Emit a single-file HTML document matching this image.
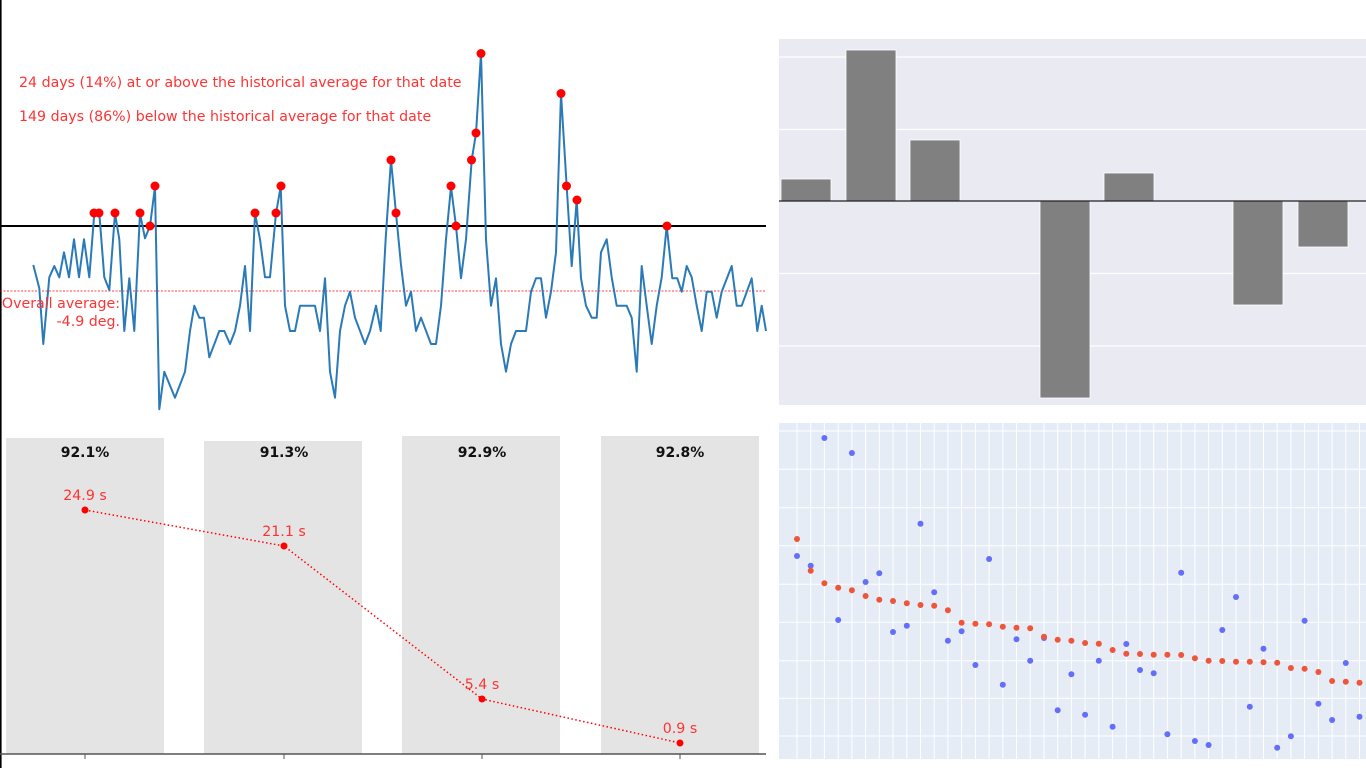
<!DOCTYPE html>
<html><head><meta charset="utf-8"><style>
html,body{margin:0;padding:0;background:#fff;width:1366px;height:768px;overflow:hidden}
svg{display:block;font-family:"DejaVu Sans","Liberation Sans",sans-serif}
</style></head><body>
<svg width="1366" height="768" viewBox="0 0 1366 768" xmlns="http://www.w3.org/2000/svg">
<rect width="1366" height="768" fill="#fff"/>
<line x1="0.8" y1="0" x2="0.8" y2="768" stroke="#000" stroke-width="1.6"/>

<line x1="0" y1="291" x2="766" y2="291" stroke="#ff0000" stroke-width="0.8" stroke-dasharray="2,1.5"/>
<line x1="0" y1="226" x2="766" y2="226" stroke="#000" stroke-width="2"/>
<polyline fill="none" stroke="#2a7ab8" stroke-width="2" stroke-linejoin="round" points="
33.3,265 39.3,288.3 43.3,344 49.3,277.3 54.3,266 59.3,277.3 64,252.3 69,277.3 74,239.3 79,277.3 84,239.3 89.3,277.3 94.3,213.3 99.3,213.3 104.3,277.3 109.3,290 115,213.3 119.3,239.3 124.3,331 129.3,278.3 134.3,331 140,213.3 145,238.3 150,226 155,186.7 159.3,409.3 164.3,371.7 175,397.7 185,371.7 190,331 194.3,305.7 199.3,317.7 204,317.7 209.3,357.3 219.3,331 224.3,331 230,344 235,331 240,305.7 245,266 250,331 255,213.3 260,239.3 265,277.3 270,277.3 276,213.3 280.7,186.7 285,305.7 290,331 295,331 300,305.7 315,305.7 320,331 325,278.3 330,371.7 335,397.7 340,331 345,305.7 350,291.7 355,317.7 365,344 370,331 376,305.7 380.7,331 385.7,238.3 391,160 396,213.3 401,265 406,305.7 411,291.7 416,331 421,317.7 431,344 436,344 441,305.7 446,239.3 451,186.7 456,226 461,278.3 466,239.3 471.7,160 476,133.3 481,53.3 486,239.3 491,305.7 496,278.3 501,344 506,371.7 511,344 516,331 526,331 531,291.7 536,278.3 541,278.3 546,317.7 551,291.7 556,252.3 561,93.3 566.7,186.7 571.7,266 576.7,200 581,278.3 586,305.7 591.7,317.7 596.7,317.7 601,252.3 606.7,239.3 611.7,277.3 616.7,305.7 626.7,305.7 631.7,317.7 636.7,371.7 641.7,266 646.7,305.7 651.7,344 656.7,305.7 661.7,277.3 666.7,226 672.3,278.3 677.3,278.3 681.7,291.7 686.7,266 691.7,277.3 696.7,305.7 701.7,331 706.7,291.7 711.7,291.7 716.7,317.7 721.7,291.7 731.7,266 736.7,305.7 741.7,305.7 751.7,278.3 757.3,331 761.7,305.7 766,331"/>
<g fill="#ff0000">
<circle cx="94" cy="213" r="4.5"/><circle cx="99" cy="213" r="4.5"/><circle cx="115" cy="213" r="4.5"/><circle cx="140" cy="213" r="4.5"/><circle cx="150" cy="226" r="4.5"/><circle cx="155" cy="186" r="4.5"/><circle cx="255" cy="213" r="4.5"/><circle cx="276" cy="213" r="4.5"/><circle cx="281" cy="186" r="4.5"/><circle cx="391" cy="160" r="4.5"/><circle cx="396" cy="213" r="4.5"/><circle cx="451" cy="186" r="4.5"/><circle cx="456" cy="226" r="4.5"/><circle cx="471.5" cy="160" r="4.5"/><circle cx="476" cy="133" r="4.5"/><circle cx="481" cy="53.5" r="4.5"/><circle cx="561" cy="93.5" r="4.5"/><circle cx="566.5" cy="186" r="4.5"/><circle cx="577" cy="200" r="4.5"/><circle cx="667" cy="226" r="4.5"/>
</g>
<g fill="#ff3333" font-size="14.2">
<text x="19" y="87">24 days (14%) at or above the historical average for that date</text>
<text x="19" y="121">149 days (86%) below the historical average for that date</text>
<text x="120" y="308" text-anchor="end">Overall average:</text>
<text x="120" y="326" text-anchor="end">-4.9 deg.</text>
</g>

<rect x="779" y="39" width="587" height="366" fill="#eaeaf2"/>
<g stroke="#fff" stroke-width="1.2">
<line x1="779" y1="57" x2="1366" y2="57"/><line x1="779" y1="129.5" x2="1366" y2="129.5"/>
<line x1="779" y1="273.5" x2="1366" y2="273.5"/><line x1="779" y1="346" x2="1366" y2="346"/>
</g>
<g fill="#808080" stroke="#fff" stroke-width="0.8">
<rect x="781" y="179" width="50" height="22"/>
<rect x="846" y="50" width="50" height="151"/>
<rect x="910" y="140" width="50" height="61"/>
<rect x="1040" y="201" width="50" height="197"/>
<rect x="1104" y="173" width="50" height="28"/>
<rect x="1233" y="201" width="50" height="104"/>
<rect x="1298" y="201" width="50" height="46"/>
</g>
<line x1="779" y1="201" x2="1366" y2="201" stroke="#222" stroke-width="1.2"/>

<g fill="#e4e4e4">
<rect x="6" y="438" width="158" height="316"/>
<rect x="204" y="441" width="158" height="313"/>
<rect x="402" y="436" width="158" height="318"/>
<rect x="601" y="436" width="158" height="318"/>
</g>
<line x1="0" y1="754" x2="766" y2="754" stroke="#555" stroke-width="1.4"/>
<g stroke="#555" stroke-width="1"><line x1="85" y1="754" x2="85" y2="759"/><line x1="284" y1="754" x2="284" y2="759"/><line x1="482" y1="754" x2="482" y2="759"/><line x1="680" y1="754" x2="680" y2="759"/></g>
<g font-size="14" font-weight="bold" fill="#111" text-anchor="middle">
<text x="85" y="457">92.1%</text><text x="284" y="457">91.3%</text><text x="482" y="457">92.9%</text><text x="680" y="457">92.8%</text>
</g>
<polyline points="85,510 284,546 482,699 680,743" fill="none" stroke="#ff0000" stroke-width="1.5" stroke-dasharray="1.5,2.5"/>
<g fill="#ff0000"><circle cx="85" cy="510" r="3.5"/><circle cx="284" cy="546" r="3.5"/><circle cx="482" cy="699" r="3.5"/><circle cx="680" cy="743" r="3.5"/></g>
<g font-size="14.2" fill="#ff3333" text-anchor="middle">
<text x="85" y="500">24.9 s</text><text x="284" y="536">21.1 s</text><text x="482" y="689">5.4 s</text><text x="680" y="733">0.9 s</text>
</g>

<rect x="779" y="423" width="587" height="336" fill="#e5ecf6"/>
<g stroke="#fff" stroke-width="1">
<line x1="779" y1="431" x2="1366" y2="431"/><line x1="779" y1="469.3" x2="1366" y2="469.3"/><line x1="779" y1="507.7" x2="1366" y2="507.7"/><line x1="779" y1="545.7" x2="1366" y2="545.7"/><line x1="779" y1="584.3" x2="1366" y2="584.3"/><line x1="779" y1="622.3" x2="1366" y2="622.3"/><line x1="779" y1="660.7" x2="1366" y2="660.7"/><line x1="779" y1="698.3" x2="1366" y2="698.3"/><line x1="779" y1="736" x2="1366" y2="736"/>
<line x1="797" y1="423" x2="797" y2="759"/><line x1="810.7" y1="423" x2="810.7" y2="759"/><line x1="824.4" y1="423" x2="824.4" y2="759"/><line x1="838.2" y1="423" x2="838.2" y2="759"/><line x1="851.9" y1="423" x2="851.9" y2="759"/><line x1="865.6" y1="423" x2="865.6" y2="759"/><line x1="879.3" y1="423" x2="879.3" y2="759"/><line x1="893" y1="423" x2="893" y2="759"/><line x1="906.8" y1="423" x2="906.8" y2="759"/><line x1="920.5" y1="423" x2="920.5" y2="759"/><line x1="934.2" y1="423" x2="934.2" y2="759"/><line x1="947.9" y1="423" x2="947.9" y2="759"/><line x1="961.6" y1="423" x2="961.6" y2="759"/><line x1="975.4" y1="423" x2="975.4" y2="759"/><line x1="989.1" y1="423" x2="989.1" y2="759"/><line x1="1002.8" y1="423" x2="1002.8" y2="759"/><line x1="1016.5" y1="423" x2="1016.5" y2="759"/><line x1="1030.2" y1="423" x2="1030.2" y2="759"/><line x1="1044" y1="423" x2="1044" y2="759"/><line x1="1057.7" y1="423" x2="1057.7" y2="759"/><line x1="1071.4" y1="423" x2="1071.4" y2="759"/><line x1="1085.1" y1="423" x2="1085.1" y2="759"/><line x1="1098.8" y1="423" x2="1098.8" y2="759"/><line x1="1112.6" y1="423" x2="1112.6" y2="759"/><line x1="1126.3" y1="423" x2="1126.3" y2="759"/><line x1="1140" y1="423" x2="1140" y2="759"/><line x1="1153.7" y1="423" x2="1153.7" y2="759"/><line x1="1167.4" y1="423" x2="1167.4" y2="759"/><line x1="1181.2" y1="423" x2="1181.2" y2="759"/><line x1="1194.9" y1="423" x2="1194.9" y2="759"/><line x1="1208.6" y1="423" x2="1208.6" y2="759"/><line x1="1222.3" y1="423" x2="1222.3" y2="759"/><line x1="1236" y1="423" x2="1236" y2="759"/><line x1="1249.8" y1="423" x2="1249.8" y2="759"/><line x1="1263.5" y1="423" x2="1263.5" y2="759"/><line x1="1277.2" y1="423" x2="1277.2" y2="759"/><line x1="1290.9" y1="423" x2="1290.9" y2="759"/><line x1="1304.6" y1="423" x2="1304.6" y2="759"/><line x1="1318.4" y1="423" x2="1318.4" y2="759"/><line x1="1332.1" y1="423" x2="1332.1" y2="759"/><line x1="1345.8" y1="423" x2="1345.8" y2="759"/><line x1="1359.5" y1="423" x2="1359.5" y2="759"/>
</g>
<g fill="#636efa">
<circle cx="797" cy="556" r="3"/><circle cx="810.7" cy="565.7" r="3"/><circle cx="824.4" cy="438" r="3"/><circle cx="838.2" cy="620" r="3"/><circle cx="851.9" cy="453" r="3"/><circle cx="865.6" cy="582" r="3"/><circle cx="879.3" cy="573.3" r="3"/><circle cx="893" cy="632" r="3"/><circle cx="906.8" cy="625.7" r="3"/><circle cx="920.5" cy="523.7" r="3"/><circle cx="934.2" cy="592.3" r="3"/><circle cx="947.9" cy="640.7" r="3"/><circle cx="961.6" cy="631.3" r="3"/><circle cx="975.4" cy="665" r="3"/><circle cx="989.1" cy="559" r="3"/><circle cx="1002.8" cy="684.7" r="3"/><circle cx="1016.5" cy="639.3" r="3"/><circle cx="1030.2" cy="660.7" r="3"/><circle cx="1044" cy="638" r="3"/><circle cx="1057.7" cy="710.3" r="3"/><circle cx="1071.4" cy="674.3" r="3"/><circle cx="1085.1" cy="714.7" r="3"/><circle cx="1098.8" cy="660.7" r="3"/><circle cx="1112.6" cy="726.7" r="3"/><circle cx="1126.3" cy="644" r="3"/><circle cx="1140" cy="670" r="3"/><circle cx="1153.7" cy="673.3" r="3"/><circle cx="1167.4" cy="734.3" r="3"/><circle cx="1181.2" cy="572.7" r="3"/><circle cx="1194.9" cy="741" r="3"/><circle cx="1208.6" cy="745" r="3"/><circle cx="1222.3" cy="630" r="3"/><circle cx="1236" cy="597" r="3"/><circle cx="1249.8" cy="706.7" r="3"/><circle cx="1263.5" cy="648.7" r="3"/><circle cx="1277.2" cy="747.7" r="3"/><circle cx="1290.9" cy="736.3" r="3"/><circle cx="1304.6" cy="620.7" r="3"/><circle cx="1318.4" cy="703.7" r="3"/><circle cx="1332.1" cy="720" r="3"/><circle cx="1345.8" cy="663" r="3"/><circle cx="1359.5" cy="716.7" r="3"/>
</g>
<g fill="#ef553b">
<circle cx="797" cy="539" r="3"/><circle cx="810.7" cy="570.7" r="3"/><circle cx="824.4" cy="583.3" r="3"/><circle cx="838.2" cy="587.7" r="3"/><circle cx="851.9" cy="590.3" r="3"/><circle cx="865.6" cy="596" r="3"/><circle cx="879.3" cy="599.7" r="3"/><circle cx="893" cy="601" r="3"/><circle cx="906.8" cy="603.3" r="3"/><circle cx="920.5" cy="605" r="3"/><circle cx="934.2" cy="605.7" r="3"/><circle cx="947.9" cy="610.3" r="3"/><circle cx="961.6" cy="622.7" r="3"/><circle cx="975.4" cy="623.7" r="3"/><circle cx="989.1" cy="624.3" r="3"/><circle cx="1002.8" cy="626.7" r="3"/><circle cx="1016.5" cy="627.7" r="3"/><circle cx="1030.2" cy="628.3" r="3"/><circle cx="1044" cy="636.7" r="3"/><circle cx="1057.7" cy="639.7" r="3"/><circle cx="1071.4" cy="640.7" r="3"/><circle cx="1085.1" cy="643" r="3"/><circle cx="1098.8" cy="643.7" r="3"/><circle cx="1112.6" cy="650" r="3"/><circle cx="1126.3" cy="653.7" r="3"/><circle cx="1140" cy="654" r="3"/><circle cx="1153.7" cy="654.7" r="3"/><circle cx="1167.4" cy="654.7" r="3"/><circle cx="1181.2" cy="655" r="3"/><circle cx="1194.9" cy="658.3" r="3"/><circle cx="1208.6" cy="660.7" r="3"/><circle cx="1222.3" cy="661" r="3"/><circle cx="1236" cy="661.7" r="3"/><circle cx="1249.8" cy="661.7" r="3"/><circle cx="1263.5" cy="662.3" r="3"/><circle cx="1277.2" cy="662.7" r="3"/><circle cx="1290.9" cy="668" r="3"/><circle cx="1304.6" cy="668.7" r="3"/><circle cx="1318.4" cy="672" r="3"/><circle cx="1332.1" cy="681" r="3"/><circle cx="1345.8" cy="681.7" r="3"/><circle cx="1359.5" cy="682.7" r="3"/>
</g>
</svg>
</body></html>
